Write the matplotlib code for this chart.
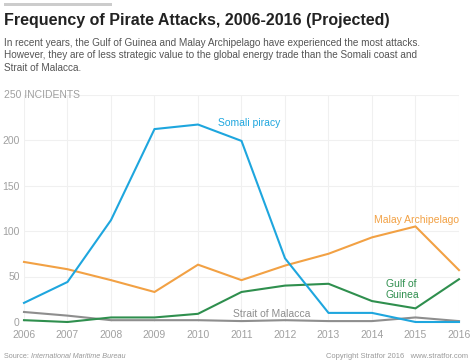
import numpy as np
import matplotlib
matplotlib.use('Agg')
import matplotlib.pyplot as plt

# данные
years = [2006, 2007, 2008, 2009, 2010, 2011, 2012, 2013, 2014, 2015, 2016]
somali = [21, 44, 112, 212, 217, 199, 70, 10, 10, 0, 0]
malay = [66, 58, 46, 33, 63, 46, 62, 75, 93, 105, 57]
guinea = [2, 0, 5, 5, 9, 33, 40, 42, 23, 15, 47]
malacca = [11, 7, 2, 2, 2, 1, 2, 1, 1, 5, 1]
y_ticks = [0, 50, 100, 150, 200, 250]

c_blue = '#1ea6de'
c_orange = '#f2a144'
c_green = '#2f8f4e'
c_grey = '#8e8e8e'
c_text = '#555555'
c_tick = '#a0a0a0'

plt.rcParams['font.family'] = ['Liberation Sans', 'DejaVu Sans']

W, H = 474, 363
fig = plt.figure(figsize=(W / 100, H / 100), dpi=100)
fig.patch.set_facecolor('white')

# оси: 2006 -> x=24px, 2016 -> x=459px; 0 -> y=322px, 250 -> y=94.5px
ax = fig.add_axes([24 / W, 1 - 322 / H, (459 - 24) / W, (322 - 94.5) / H])
ax.set_xlim(2006, 2016)
ax.set_ylim(0, 250)
for s in ax.spines.values():
    s.set_visible(False)

ax.set_xticks(years)
ax.set_xticklabels([str(y) for y in years], fontsize=7.5, color=c_tick)
ax.set_yticks(y_ticks)
ax.set_yticklabels([str(v) for v in y_ticks[:-1]] + [''], fontsize=7.5, color=c_tick)
ax.tick_params(length=0, pad=3)
ax.tick_params(axis='x', pad=6)
ax.grid(True, color='#f0f0f0', lw=0.8)
ax.set_axisbelow(True)

for vals, col in [(malacca, c_grey), (guinea, c_green), (malay, c_orange), (somali, c_blue)]:
    ax.plot(years, vals, color=col, lw=1.5, clip_on=False, solid_joinstyle='miter')

# подписи серий
ax.text(2010.46, 219, 'Somali piracy', color=c_blue, fontsize=7.5, va='center', ha='left')
ax.text(2016, 112, 'Malay Archipelago', color=c_orange, fontsize=7.5, va='center', ha='right')
ax.text(2014.32, 36, 'Gulf of\nGuinea', color=c_green, fontsize=7.5, va='center', ha='left',
        linespacing=1.1)
ax.text(2010.8, 9, 'Strait of Malacca', color=c_grey, fontsize=7.5, va='center', ha='left')

fig.text(4 / W, 1 - 94.5 / H, '250 INCIDENTS', color=c_tick, fontsize=7.5, va='center', ha='left')

# заголовок
fig.patches.append(plt.Rectangle((4 / W, 1 - 5.5 / H), 108 / W, 2.5 / H,
                                 transform=fig.transFigure, color='#cccccc', lw=0))
fig.text(4 / W, 1 - 20 / H, 'Frequency of Pirate Attacks, 2006-2016 (Projected)',
         fontsize=11.5, fontweight='bold', color='#222222', va='center', ha='left')
fig.text(4 / W, 1 - 38 / H,
         'In recent years, the Gulf of Guinea and Malay Archipelago have experienced the most attacks.\n'
         'However, they are of less strategic value to the global energy trade than the Somali coast and\n'
         'Strait of Malacca.',
         fontsize=7.2, color=c_text, va='top', ha='left', linespacing=1.3)

# подвал
fy = 1 - 356 / H
src = fig.text(4 / W, fy, 'Source: ', fontsize=5.2, color='#999999', va='center', ha='left')
fig.canvas.draw()
bb = src.get_window_extent(renderer=fig.canvas.get_renderer())
fig.text(bb.x1 / W, fy, 'International Maritime Bureau', fontsize=5.2, color='#999999',
         va='center', ha='left', style='italic')
fig.text(468 / W, fy, 'Copyright Stratfor 2016   www.stratfor.com', fontsize=5.4,
         color='#999999', va='center', ha='right')

fig.savefig('out.png', dpi=100)
